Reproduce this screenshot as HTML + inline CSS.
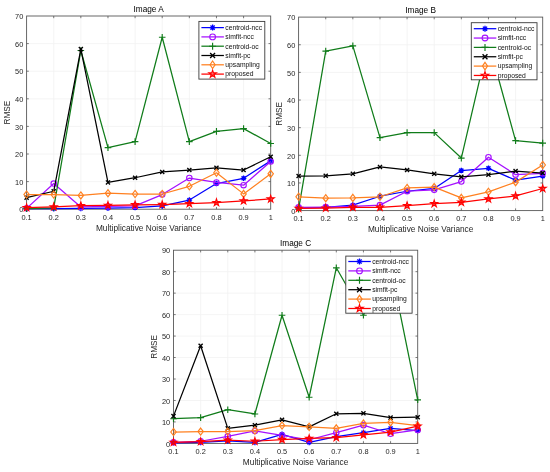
<!DOCTYPE html>
<html><head><meta charset="utf-8"><title>RMSE vs Multiplicative Noise Variance</title>
<style>html,body{margin:0;padding:0;background:#fff}svg{display:block}text{font-family:"Liberation Sans",Arial,Helvetica,sans-serif}</style>
</head><body>
<svg width="550" height="472" viewBox="0 0 550 472">
<rect width="550" height="472" fill="#fff"/>
<path d="M53.72 16.0V209.2" stroke="#f1f1f1" stroke-width="0.8"/><path d="M80.84 16.0V209.2" stroke="#f1f1f1" stroke-width="0.8"/><path d="M107.97 16.0V209.2" stroke="#f1f1f1" stroke-width="0.8"/><path d="M135.09 16.0V209.2" stroke="#f1f1f1" stroke-width="0.8"/><path d="M162.21 16.0V209.2" stroke="#f1f1f1" stroke-width="0.8"/><path d="M189.33 16.0V209.2" stroke="#f1f1f1" stroke-width="0.8"/><path d="M216.46 16.0V209.2" stroke="#f1f1f1" stroke-width="0.8"/><path d="M243.58 16.0V209.2" stroke="#f1f1f1" stroke-width="0.8"/><path d="M26.6 181.60H270.7" stroke="#f1f1f1" stroke-width="0.8"/><path d="M26.6 154.00H270.7" stroke="#f1f1f1" stroke-width="0.8"/><path d="M26.6 126.40H270.7" stroke="#f1f1f1" stroke-width="0.8"/><path d="M26.6 98.80H270.7" stroke="#f1f1f1" stroke-width="0.8"/><path d="M26.6 71.20H270.7" stroke="#f1f1f1" stroke-width="0.8"/><path d="M26.6 43.60H270.7" stroke="#f1f1f1" stroke-width="0.8"/><path d="M53.72 209.2v-2.2M53.72 16.0v2.2M80.84 209.2v-2.2M80.84 16.0v2.2M107.97 209.2v-2.2M107.97 16.0v2.2M135.09 209.2v-2.2M135.09 16.0v2.2M162.21 209.2v-2.2M162.21 16.0v2.2M189.33 209.2v-2.2M189.33 16.0v2.2M216.46 209.2v-2.2M216.46 16.0v2.2M243.58 209.2v-2.2M243.58 16.0v2.2M26.6 181.60h2.2M270.7 181.60h-2.2M26.6 154.00h2.2M270.7 154.00h-2.2M26.6 126.40h2.2M270.7 126.40h-2.2M26.6 98.80h2.2M270.7 98.80h-2.2M26.6 71.20h2.2M270.7 71.20h-2.2M26.6 43.60h2.2M270.7 43.60h-2.2" stroke="#585858" stroke-width="0.8" fill="none"/><rect x="26.6" y="16.0" width="244.10" height="193.20" fill="none" stroke="#585858" stroke-width="0.9"/><polyline points="26.60,208.65 53.72,208.65 80.84,208.37 107.97,208.10 135.09,207.54 162.21,205.89 189.33,200.09 216.46,183.53 243.58,178.29 270.70,160.90" fill="none" stroke="#0000ff" stroke-width="1.25" stroke-linejoin="round"/><path d="M23.80 208.65H29.41M26.60 205.84V211.45M24.62 206.66L28.58 210.63M24.62 210.63L28.58 206.66" stroke="#0000ff" stroke-width="1.3" fill="none"/><path d="M50.92 208.65H56.53M53.72 205.84V211.45M51.74 206.66L55.71 210.63M51.74 210.63L55.71 206.66" stroke="#0000ff" stroke-width="1.3" fill="none"/><path d="M78.04 208.37H83.65M80.84 205.57V211.18M78.86 206.39L82.83 210.36M78.86 210.36L82.83 206.39" stroke="#0000ff" stroke-width="1.3" fill="none"/><path d="M105.16 208.10H110.77M107.97 205.29V210.90M105.98 206.11L109.95 210.08M105.98 210.08L109.95 206.11" stroke="#0000ff" stroke-width="1.3" fill="none"/><path d="M132.28 207.54H137.89M135.09 204.74V210.35M133.11 205.56L137.07 209.53M133.11 209.53L137.07 205.56" stroke="#0000ff" stroke-width="1.3" fill="none"/><path d="M159.41 205.89H165.02M162.21 203.08V208.69M160.23 203.90L164.19 207.87M160.23 207.87L164.19 203.90" stroke="#0000ff" stroke-width="1.3" fill="none"/><path d="M186.53 200.09H192.14M189.33 197.29V202.90M187.35 198.11L191.32 202.08M187.35 202.08L191.32 198.11" stroke="#0000ff" stroke-width="1.3" fill="none"/><path d="M213.65 183.53H219.26M216.46 180.73V186.34M214.47 181.55L218.44 185.52M214.47 185.52L218.44 181.55" stroke="#0000ff" stroke-width="1.3" fill="none"/><path d="M240.77 178.29H246.38M243.58 175.48V181.09M241.59 176.30L245.56 180.27M241.59 180.27L245.56 176.30" stroke="#0000ff" stroke-width="1.3" fill="none"/><path d="M267.89 160.90H273.50M270.70 158.09V163.70M268.72 158.92L272.68 162.88M268.72 162.88L272.68 158.92" stroke="#0000ff" stroke-width="1.3" fill="none"/><polyline points="26.60,208.37 53.72,183.53 80.84,206.99 107.97,206.44 135.09,205.89 162.21,194.57 189.33,178.01 216.46,182.43 243.58,185.19 270.70,161.45" fill="none" stroke="#a510ff" stroke-width="1.25" stroke-linejoin="round"/><circle cx="26.60" cy="208.37" r="2.71" stroke="#a510ff" stroke-width="1.15" fill="none"/><circle cx="53.72" cy="183.53" r="2.71" stroke="#a510ff" stroke-width="1.15" fill="none"/><circle cx="80.84" cy="206.99" r="2.71" stroke="#a510ff" stroke-width="1.15" fill="none"/><circle cx="107.97" cy="206.44" r="2.71" stroke="#a510ff" stroke-width="1.15" fill="none"/><circle cx="135.09" cy="205.89" r="2.71" stroke="#a510ff" stroke-width="1.15" fill="none"/><circle cx="162.21" cy="194.57" r="2.71" stroke="#a510ff" stroke-width="1.15" fill="none"/><circle cx="189.33" cy="178.01" r="2.71" stroke="#a510ff" stroke-width="1.15" fill="none"/><circle cx="216.46" cy="182.43" r="2.71" stroke="#a510ff" stroke-width="1.15" fill="none"/><circle cx="243.58" cy="185.19" r="2.71" stroke="#a510ff" stroke-width="1.15" fill="none"/><circle cx="270.70" cy="161.45" r="2.71" stroke="#a510ff" stroke-width="1.15" fill="none"/><polyline points="26.60,208.65 53.72,207.82 80.84,50.50 107.97,147.65 135.09,141.58 162.21,37.25 189.33,141.58 216.46,131.37 243.58,128.61 270.70,143.51" fill="none" stroke="#107c1a" stroke-width="1.25" stroke-linejoin="round"/><path d="M23.30 208.65H29.90M26.60 205.35V211.95" stroke="#107c1a" stroke-width="1.15" fill="none"/><path d="M50.42 207.82H57.02M53.72 204.52V211.12" stroke="#107c1a" stroke-width="1.15" fill="none"/><path d="M77.54 50.50H84.14M80.84 47.20V53.80" stroke="#107c1a" stroke-width="1.15" fill="none"/><path d="M104.67 147.65H111.27M107.97 144.35V150.95" stroke="#107c1a" stroke-width="1.15" fill="none"/><path d="M131.79 141.58H138.39M135.09 138.28V144.88" stroke="#107c1a" stroke-width="1.15" fill="none"/><path d="M158.91 37.25H165.51M162.21 33.95V40.55" stroke="#107c1a" stroke-width="1.15" fill="none"/><path d="M186.03 141.58H192.63M189.33 138.28V144.88" stroke="#107c1a" stroke-width="1.15" fill="none"/><path d="M213.16 131.37H219.76M216.46 128.07V134.67" stroke="#107c1a" stroke-width="1.15" fill="none"/><path d="M240.28 128.61H246.88M243.58 125.31V131.91" stroke="#107c1a" stroke-width="1.15" fill="none"/><path d="M267.40 143.51H274.00M270.70 140.21V146.81" stroke="#107c1a" stroke-width="1.15" fill="none"/><polyline points="26.60,197.61 53.72,191.26 80.84,49.12 107.97,182.43 135.09,177.74 162.21,171.94 189.33,170.01 216.46,167.80 243.58,170.01 270.70,156.76" fill="none" stroke="#000000" stroke-width="1.25" stroke-linejoin="round"/><path d="M24.55 195.56L28.65 199.65M24.55 199.65L28.65 195.56" stroke="#000000" stroke-width="1.35" fill="none"/><path d="M51.68 189.21L55.77 193.31M51.68 193.31L55.77 189.21" stroke="#000000" stroke-width="1.35" fill="none"/><path d="M78.80 47.07L82.89 51.17M78.80 51.17L82.89 47.07" stroke="#000000" stroke-width="1.35" fill="none"/><path d="M105.92 180.38L110.01 184.47M105.92 184.47L110.01 180.38" stroke="#000000" stroke-width="1.35" fill="none"/><path d="M133.04 175.69L137.13 179.78M133.04 179.78L137.13 175.69" stroke="#000000" stroke-width="1.35" fill="none"/><path d="M160.17 169.89L164.26 173.99M160.17 173.99L164.26 169.89" stroke="#000000" stroke-width="1.35" fill="none"/><path d="M187.29 167.96L191.38 172.05M187.29 172.05L191.38 167.96" stroke="#000000" stroke-width="1.35" fill="none"/><path d="M214.41 165.75L218.50 169.85M214.41 169.85L218.50 165.75" stroke="#000000" stroke-width="1.35" fill="none"/><path d="M241.53 167.96L245.62 172.05M241.53 172.05L245.62 167.96" stroke="#000000" stroke-width="1.35" fill="none"/><path d="M268.65 154.71L272.75 158.81M268.65 158.81L272.75 154.71" stroke="#000000" stroke-width="1.35" fill="none"/><polyline points="26.60,194.57 53.72,194.57 80.84,195.40 107.97,193.19 135.09,194.02 162.21,194.02 189.33,186.29 216.46,172.77 243.58,193.88 270.70,173.87" fill="none" stroke="#ff8020" stroke-width="1.25" stroke-linejoin="round"/><path d="M26.60 191.01L29.31 194.57L26.60 198.14L23.89 194.57Z" stroke="#ff8020" stroke-width="1.15" fill="none"/><path d="M53.72 191.01L56.43 194.57L53.72 198.14L51.02 194.57Z" stroke="#ff8020" stroke-width="1.15" fill="none"/><path d="M80.84 191.84L83.55 195.40L80.84 198.96L78.14 195.40Z" stroke="#ff8020" stroke-width="1.15" fill="none"/><path d="M107.97 189.63L110.67 193.19L107.97 196.76L105.26 193.19Z" stroke="#ff8020" stroke-width="1.15" fill="none"/><path d="M135.09 190.46L137.79 194.02L135.09 197.58L132.38 194.02Z" stroke="#ff8020" stroke-width="1.15" fill="none"/><path d="M162.21 190.46L164.92 194.02L162.21 197.58L159.51 194.02Z" stroke="#ff8020" stroke-width="1.15" fill="none"/><path d="M189.33 182.73L192.04 186.29L189.33 189.86L186.63 186.29Z" stroke="#ff8020" stroke-width="1.15" fill="none"/><path d="M216.46 169.20L219.16 172.77L216.46 176.33L213.75 172.77Z" stroke="#ff8020" stroke-width="1.15" fill="none"/><path d="M243.58 190.32L246.28 193.88L243.58 197.45L240.87 193.88Z" stroke="#ff8020" stroke-width="1.15" fill="none"/><path d="M270.70 170.31L273.41 173.87L270.70 177.44L267.99 173.87Z" stroke="#ff8020" stroke-width="1.15" fill="none"/><polyline points="26.60,207.68 53.72,206.85 80.84,205.61 107.97,205.34 135.09,204.78 162.21,204.51 189.33,203.68 216.46,202.58 243.58,200.92 270.70,198.99" fill="none" stroke="#ff0000" stroke-width="1.25" stroke-linejoin="round"/><polygon points="26.60,204.05 27.42,206.56 30.05,206.56 27.92,208.11 28.73,210.62 26.60,209.07 24.47,210.62 25.28,208.11 23.15,206.56 25.78,206.56" stroke="#ff0000" stroke-width="1.15" fill="#ff0000" fill-opacity="0.5"/><polygon points="53.72,203.22 54.54,205.73 57.17,205.73 55.04,207.28 55.86,209.79 53.72,208.24 51.59,209.79 52.40,207.28 50.27,205.73 52.91,205.73" stroke="#ff0000" stroke-width="1.15" fill="#ff0000" fill-opacity="0.5"/><polygon points="80.84,201.98 81.66,204.49 84.30,204.49 82.16,206.04 82.98,208.55 80.84,207.00 78.71,208.55 79.53,206.04 77.39,204.49 80.03,204.49" stroke="#ff0000" stroke-width="1.15" fill="#ff0000" fill-opacity="0.5"/><polygon points="107.97,201.71 108.78,204.21 111.42,204.21 109.29,205.76 110.10,208.27 107.97,206.72 105.83,208.27 106.65,205.76 104.51,204.21 107.15,204.21" stroke="#ff0000" stroke-width="1.15" fill="#ff0000" fill-opacity="0.5"/><polygon points="135.09,201.15 135.90,203.66 138.54,203.66 136.41,205.21 137.22,207.72 135.09,206.17 132.96,207.72 133.77,205.21 131.64,203.66 134.27,203.66" stroke="#ff0000" stroke-width="1.15" fill="#ff0000" fill-opacity="0.5"/><polygon points="162.21,200.88 163.03,203.39 165.66,203.39 163.53,204.94 164.34,207.44 162.21,205.89 160.08,207.44 160.89,204.94 158.76,203.39 161.40,203.39" stroke="#ff0000" stroke-width="1.15" fill="#ff0000" fill-opacity="0.5"/><polygon points="189.33,200.05 190.15,202.56 192.79,202.56 190.65,204.11 191.47,206.62 189.33,205.07 187.20,206.62 188.01,204.11 185.88,202.56 188.52,202.56" stroke="#ff0000" stroke-width="1.15" fill="#ff0000" fill-opacity="0.5"/><polygon points="216.46,198.95 217.27,201.45 219.91,201.45 217.77,203.00 218.59,205.51 216.46,203.96 214.32,205.51 215.14,203.00 213.00,201.45 215.64,201.45" stroke="#ff0000" stroke-width="1.15" fill="#ff0000" fill-opacity="0.5"/><polygon points="243.58,197.29 244.39,199.80 247.03,199.80 244.90,201.35 245.71,203.86 243.58,202.31 241.44,203.86 242.26,201.35 240.13,199.80 242.76,199.80" stroke="#ff0000" stroke-width="1.15" fill="#ff0000" fill-opacity="0.5"/><polygon points="270.70,195.36 271.52,197.87 274.15,197.87 272.02,199.42 272.83,201.92 270.70,200.37 268.57,201.92 269.38,199.42 267.25,197.87 269.88,197.87" stroke="#ff0000" stroke-width="1.15" fill="#ff0000" fill-opacity="0.5"/><text x="26.60" y="220.00" font-size="7.4" text-anchor="middle" fill="#262626">0.1</text><text x="53.72" y="220.00" font-size="7.4" text-anchor="middle" fill="#262626">0.2</text><text x="80.84" y="220.00" font-size="7.4" text-anchor="middle" fill="#262626">0.3</text><text x="107.97" y="220.00" font-size="7.4" text-anchor="middle" fill="#262626">0.4</text><text x="135.09" y="220.00" font-size="7.4" text-anchor="middle" fill="#262626">0.5</text><text x="162.21" y="220.00" font-size="7.4" text-anchor="middle" fill="#262626">0.6</text><text x="189.33" y="220.00" font-size="7.4" text-anchor="middle" fill="#262626">0.7</text><text x="216.46" y="220.00" font-size="7.4" text-anchor="middle" fill="#262626">0.8</text><text x="243.58" y="220.00" font-size="7.4" text-anchor="middle" fill="#262626">0.9</text><text x="270.70" y="220.00" font-size="7.4" text-anchor="middle" fill="#262626">1</text><text x="23.30" y="212.40" font-size="7.4" text-anchor="end" fill="#262626">0</text><text x="23.30" y="184.80" font-size="7.4" text-anchor="end" fill="#262626">10</text><text x="23.30" y="157.20" font-size="7.4" text-anchor="end" fill="#262626">20</text><text x="23.30" y="129.60" font-size="7.4" text-anchor="end" fill="#262626">30</text><text x="23.30" y="102.00" font-size="7.4" text-anchor="end" fill="#262626">40</text><text x="23.30" y="74.40" font-size="7.4" text-anchor="end" fill="#262626">50</text><text x="23.30" y="46.80" font-size="7.4" text-anchor="end" fill="#262626">60</text><text x="23.30" y="19.20" font-size="7.4" text-anchor="end" fill="#262626">70</text><text x="148.65" y="11.70" font-size="8.25" text-anchor="middle" fill="#000">Image A</text><text x="148.65" y="230.50" font-size="8.3" text-anchor="middle" fill="#262626">Multiplicative Noise Variance</text><text transform="translate(9.60 112.60) rotate(-90)" font-size="8.2" text-anchor="middle" fill="#262626">RMSE</text><rect x="198.9" y="21.4" width="65.90" height="57.70" fill="#fff" stroke="#3a3a3a" stroke-width="0.9"/><path d="M201.40 27.60H223.90" stroke="#0000ff" stroke-width="1.25"/><path d="M209.62 27.60H215.57M212.60 24.62V30.58M210.50 25.50L214.70 29.70M210.50 29.70L214.70 25.50" stroke="#0000ff" stroke-width="1.3" fill="none"/><text x="225.30" y="29.90" font-size="6.75" fill="#111">centroid-ncc</text><path d="M201.40 36.90H223.90" stroke="#a510ff" stroke-width="1.25"/><circle cx="212.60" cy="36.90" r="2.87" stroke="#a510ff" stroke-width="1.15" fill="none"/><text x="225.30" y="39.20" font-size="6.75" fill="#111">simfit-ncc</text><path d="M201.40 46.20H223.90" stroke="#107c1a" stroke-width="1.25"/><path d="M209.10 46.20H216.10M212.60 42.70V49.70" stroke="#107c1a" stroke-width="1.15" fill="none"/><text x="225.30" y="48.50" font-size="6.75" fill="#111">centroid-oc</text><path d="M201.40 55.50H223.90" stroke="#000000" stroke-width="1.25"/><path d="M210.15 53.05L215.05 57.95M210.15 57.95L215.05 53.05" stroke="#000000" stroke-width="1.35" fill="none"/><text x="225.30" y="57.80" font-size="6.75" fill="#111">simfit-pc</text><path d="M201.40 64.80H223.90" stroke="#ff8020" stroke-width="1.25"/><path d="M212.60 61.02L215.12 64.80L212.60 68.58L210.08 64.80Z" stroke="#ff8020" stroke-width="1.15" fill="none"/><text x="225.30" y="67.10" font-size="6.75" fill="#111">upsampling</text><path d="M201.40 74.10H223.90" stroke="#ff0000" stroke-width="1.25"/><polygon points="212.60,70.25 213.46,72.91 216.26,72.91 214.00,74.55 214.86,77.21 212.60,75.57 210.34,77.21 211.20,74.55 208.94,72.91 211.74,72.91" stroke="#ff0000" stroke-width="1.15" fill="#ff0000" fill-opacity="0.0"/><text x="225.30" y="76.40" font-size="6.75" fill="#111">proposed</text><path d="M325.72 17.1V210.6" stroke="#f1f1f1" stroke-width="0.8"/><path d="M352.84 17.1V210.6" stroke="#f1f1f1" stroke-width="0.8"/><path d="M379.97 17.1V210.6" stroke="#f1f1f1" stroke-width="0.8"/><path d="M407.09 17.1V210.6" stroke="#f1f1f1" stroke-width="0.8"/><path d="M434.21 17.1V210.6" stroke="#f1f1f1" stroke-width="0.8"/><path d="M461.33 17.1V210.6" stroke="#f1f1f1" stroke-width="0.8"/><path d="M488.46 17.1V210.6" stroke="#f1f1f1" stroke-width="0.8"/><path d="M515.58 17.1V210.6" stroke="#f1f1f1" stroke-width="0.8"/><path d="M298.6 182.96H542.7" stroke="#f1f1f1" stroke-width="0.8"/><path d="M298.6 155.31H542.7" stroke="#f1f1f1" stroke-width="0.8"/><path d="M298.6 127.67H542.7" stroke="#f1f1f1" stroke-width="0.8"/><path d="M298.6 100.03H542.7" stroke="#f1f1f1" stroke-width="0.8"/><path d="M298.6 72.39H542.7" stroke="#f1f1f1" stroke-width="0.8"/><path d="M298.6 44.74H542.7" stroke="#f1f1f1" stroke-width="0.8"/><path d="M325.72 210.6v-2.2M325.72 17.1v2.2M352.84 210.6v-2.2M352.84 17.1v2.2M379.97 210.6v-2.2M379.97 17.1v2.2M407.09 210.6v-2.2M407.09 17.1v2.2M434.21 210.6v-2.2M434.21 17.1v2.2M461.33 210.6v-2.2M461.33 17.1v2.2M488.46 210.6v-2.2M488.46 17.1v2.2M515.58 210.6v-2.2M515.58 17.1v2.2M298.6 182.96h2.2M542.7 182.96h-2.2M298.6 155.31h2.2M542.7 155.31h-2.2M298.6 127.67h2.2M542.7 127.67h-2.2M298.6 100.03h2.2M542.7 100.03h-2.2M298.6 72.39h2.2M542.7 72.39h-2.2M298.6 44.74h2.2M542.7 44.74h-2.2" stroke="#585858" stroke-width="0.8" fill="none"/><rect x="298.6" y="17.1" width="244.10" height="193.50" fill="none" stroke="#585858" stroke-width="0.9"/><polyline points="298.60,207.84 325.72,207.28 352.84,205.07 379.97,196.23 407.09,191.25 434.21,188.49 461.33,170.52 488.46,168.31 515.58,180.19 542.70,176.05" fill="none" stroke="#0000ff" stroke-width="1.25" stroke-linejoin="round"/><path d="M295.80 207.84H301.41M298.60 205.03V210.64M296.62 205.85L300.58 209.82M296.62 209.82L300.58 205.85" stroke="#0000ff" stroke-width="1.3" fill="none"/><path d="M322.92 207.28H328.53M325.72 204.48V210.09M323.74 205.30L327.71 209.27M323.74 209.27L327.71 205.30" stroke="#0000ff" stroke-width="1.3" fill="none"/><path d="M350.04 205.07H355.65M352.84 202.27V207.88M350.86 203.09L354.83 207.05M350.86 207.05L354.83 203.09" stroke="#0000ff" stroke-width="1.3" fill="none"/><path d="M377.16 196.23H382.77M379.97 193.42V199.03M377.98 194.24L381.95 198.21M377.98 198.21L381.95 194.24" stroke="#0000ff" stroke-width="1.3" fill="none"/><path d="M404.28 191.25H409.89M407.09 188.44V194.06M405.11 189.27L409.07 193.23M405.11 193.23L409.07 189.27" stroke="#0000ff" stroke-width="1.3" fill="none"/><path d="M431.41 188.49H437.02M434.21 185.68V191.29M432.23 186.50L436.19 190.47M432.23 190.47L436.19 186.50" stroke="#0000ff" stroke-width="1.3" fill="none"/><path d="M458.53 170.52H464.14M461.33 167.71V173.32M459.35 168.53L463.32 172.50M459.35 172.50L463.32 168.53" stroke="#0000ff" stroke-width="1.3" fill="none"/><path d="M485.65 168.31H491.26M488.46 165.50V171.11M486.47 166.32L490.44 170.29M486.47 170.29L490.44 166.32" stroke="#0000ff" stroke-width="1.3" fill="none"/><path d="M512.77 180.19H518.38M515.58 177.39V183.00M513.59 178.21L517.56 182.18M513.59 182.18L517.56 178.21" stroke="#0000ff" stroke-width="1.3" fill="none"/><path d="M539.90 176.05H545.50M542.70 173.24V178.85M540.72 174.06L544.68 178.03M540.72 178.03L544.68 174.06" stroke="#0000ff" stroke-width="1.3" fill="none"/><polyline points="298.60,207.28 325.72,207.01 352.84,206.45 379.97,205.07 407.09,191.25 434.21,189.87 461.33,181.57 488.46,157.25 515.58,174.66 542.70,173.28" fill="none" stroke="#a510ff" stroke-width="1.25" stroke-linejoin="round"/><circle cx="298.60" cy="207.28" r="2.71" stroke="#a510ff" stroke-width="1.15" fill="none"/><circle cx="325.72" cy="207.01" r="2.71" stroke="#a510ff" stroke-width="1.15" fill="none"/><circle cx="352.84" cy="206.45" r="2.71" stroke="#a510ff" stroke-width="1.15" fill="none"/><circle cx="379.97" cy="205.07" r="2.71" stroke="#a510ff" stroke-width="1.15" fill="none"/><circle cx="407.09" cy="191.25" r="2.71" stroke="#a510ff" stroke-width="1.15" fill="none"/><circle cx="434.21" cy="189.87" r="2.71" stroke="#a510ff" stroke-width="1.15" fill="none"/><circle cx="461.33" cy="181.57" r="2.71" stroke="#a510ff" stroke-width="1.15" fill="none"/><circle cx="488.46" cy="157.25" r="2.71" stroke="#a510ff" stroke-width="1.15" fill="none"/><circle cx="515.58" cy="174.66" r="2.71" stroke="#a510ff" stroke-width="1.15" fill="none"/><circle cx="542.70" cy="173.28" r="2.71" stroke="#a510ff" stroke-width="1.15" fill="none"/><polyline points="298.60,209.22 325.72,51.10 352.84,45.85 379.97,137.62 407.09,132.65 434.21,132.65 461.33,158.08 488.46,41.98 515.58,140.66 542.70,143.15" fill="none" stroke="#107c1a" stroke-width="1.25" stroke-linejoin="round"/><path d="M295.30 209.22H301.90M298.60 205.92V212.52" stroke="#107c1a" stroke-width="1.15" fill="none"/><path d="M322.42 51.10H329.02M325.72 47.80V54.40" stroke="#107c1a" stroke-width="1.15" fill="none"/><path d="M349.54 45.85H356.14M352.84 42.55V49.15" stroke="#107c1a" stroke-width="1.15" fill="none"/><path d="M376.67 137.62H383.27M379.97 134.32V140.92" stroke="#107c1a" stroke-width="1.15" fill="none"/><path d="M403.79 132.65H410.39M407.09 129.35V135.95" stroke="#107c1a" stroke-width="1.15" fill="none"/><path d="M430.91 132.65H437.51M434.21 129.35V135.95" stroke="#107c1a" stroke-width="1.15" fill="none"/><path d="M458.03 158.08H464.63M461.33 154.78V161.38" stroke="#107c1a" stroke-width="1.15" fill="none"/><path d="M485.16 41.98H491.76M488.46 38.68V45.28" stroke="#107c1a" stroke-width="1.15" fill="none"/><path d="M512.28 140.66H518.88M515.58 137.36V143.96" stroke="#107c1a" stroke-width="1.15" fill="none"/><path d="M539.40 143.15H546.00M542.70 139.85V146.45" stroke="#107c1a" stroke-width="1.15" fill="none"/><polyline points="298.60,176.05 325.72,175.77 352.84,173.83 379.97,166.92 407.09,169.97 434.21,173.83 461.33,176.88 488.46,174.66 515.58,171.07 542.70,173.01" fill="none" stroke="#000000" stroke-width="1.25" stroke-linejoin="round"/><path d="M296.55 174.00L300.65 178.09M296.55 178.09L300.65 174.00" stroke="#000000" stroke-width="1.35" fill="none"/><path d="M323.68 173.72L327.77 177.82M323.68 177.82L327.77 173.72" stroke="#000000" stroke-width="1.35" fill="none"/><path d="M350.80 171.79L354.89 175.88M350.80 175.88L354.89 171.79" stroke="#000000" stroke-width="1.35" fill="none"/><path d="M377.92 164.88L382.01 168.97M377.92 168.97L382.01 164.88" stroke="#000000" stroke-width="1.35" fill="none"/><path d="M405.04 167.92L409.13 172.01M405.04 172.01L409.13 167.92" stroke="#000000" stroke-width="1.35" fill="none"/><path d="M432.17 171.79L436.26 175.88M432.17 175.88L436.26 171.79" stroke="#000000" stroke-width="1.35" fill="none"/><path d="M459.29 174.83L463.38 178.92M459.29 178.92L463.38 174.83" stroke="#000000" stroke-width="1.35" fill="none"/><path d="M486.41 172.62L490.50 176.71M486.41 176.71L490.50 172.62" stroke="#000000" stroke-width="1.35" fill="none"/><path d="M513.53 169.02L517.62 173.12M513.53 173.12L517.62 169.02" stroke="#000000" stroke-width="1.35" fill="none"/><path d="M540.65 170.96L544.75 175.05M540.65 175.05L544.75 170.96" stroke="#000000" stroke-width="1.35" fill="none"/><polyline points="298.60,196.78 325.72,198.16 352.84,197.88 379.97,196.78 407.09,187.93 434.21,187.10 461.33,197.88 488.46,191.80 515.58,182.13 542.70,164.99" fill="none" stroke="#ff8020" stroke-width="1.25" stroke-linejoin="round"/><path d="M298.60 193.21L301.31 196.78L298.60 200.34L295.89 196.78Z" stroke="#ff8020" stroke-width="1.15" fill="none"/><path d="M325.72 194.60L328.43 198.16L325.72 201.72L323.02 198.16Z" stroke="#ff8020" stroke-width="1.15" fill="none"/><path d="M352.84 194.32L355.55 197.88L352.84 201.45L350.14 197.88Z" stroke="#ff8020" stroke-width="1.15" fill="none"/><path d="M379.97 193.21L382.67 196.78L379.97 200.34L377.26 196.78Z" stroke="#ff8020" stroke-width="1.15" fill="none"/><path d="M407.09 184.37L409.79 187.93L407.09 191.50L404.38 187.93Z" stroke="#ff8020" stroke-width="1.15" fill="none"/><path d="M434.21 183.54L436.92 187.10L434.21 190.67L431.51 187.10Z" stroke="#ff8020" stroke-width="1.15" fill="none"/><path d="M461.33 194.32L464.04 197.88L461.33 201.45L458.63 197.88Z" stroke="#ff8020" stroke-width="1.15" fill="none"/><path d="M488.46 188.24L491.16 191.80L488.46 195.37L485.75 191.80Z" stroke="#ff8020" stroke-width="1.15" fill="none"/><path d="M515.58 178.56L518.28 182.13L515.58 185.69L512.87 182.13Z" stroke="#ff8020" stroke-width="1.15" fill="none"/><path d="M542.70 161.43L545.41 164.99L542.70 168.55L539.99 164.99Z" stroke="#ff8020" stroke-width="1.15" fill="none"/><polyline points="298.60,208.39 325.72,208.11 352.84,207.28 379.97,207.28 407.09,205.62 434.21,203.69 461.33,202.31 488.46,198.99 515.58,195.95 542.70,188.49" fill="none" stroke="#ff0000" stroke-width="1.25" stroke-linejoin="round"/><polygon points="298.60,204.76 299.42,207.27 302.05,207.27 299.92,208.82 300.73,211.33 298.60,209.78 296.47,211.33 297.28,208.82 295.15,207.27 297.78,207.27" stroke="#ff0000" stroke-width="1.15" fill="#ff0000" fill-opacity="0.5"/><polygon points="325.72,204.48 326.54,206.99 329.17,206.99 327.04,208.54 327.86,211.05 325.72,209.50 323.59,211.05 324.40,208.54 322.27,206.99 324.91,206.99" stroke="#ff0000" stroke-width="1.15" fill="#ff0000" fill-opacity="0.5"/><polygon points="352.84,203.65 353.66,206.16 356.30,206.16 354.16,207.71 354.98,210.22 352.84,208.67 350.71,210.22 351.53,207.71 349.39,206.16 352.03,206.16" stroke="#ff0000" stroke-width="1.15" fill="#ff0000" fill-opacity="0.5"/><polygon points="379.97,203.65 380.78,206.16 383.42,206.16 381.29,207.71 382.10,210.22 379.97,208.67 377.83,210.22 378.65,207.71 376.51,206.16 379.15,206.16" stroke="#ff0000" stroke-width="1.15" fill="#ff0000" fill-opacity="0.5"/><polygon points="407.09,201.99 407.90,204.50 410.54,204.50 408.41,206.05 409.22,208.56 407.09,207.01 404.96,208.56 405.77,206.05 403.64,204.50 406.27,204.50" stroke="#ff0000" stroke-width="1.15" fill="#ff0000" fill-opacity="0.5"/><polygon points="434.21,200.06 435.03,202.57 437.66,202.57 435.53,204.12 436.34,206.63 434.21,205.08 432.08,206.63 432.89,204.12 430.76,202.57 433.40,202.57" stroke="#ff0000" stroke-width="1.15" fill="#ff0000" fill-opacity="0.5"/><polygon points="461.33,198.68 462.15,201.19 464.79,201.19 462.65,202.74 463.47,205.24 461.33,203.69 459.20,205.24 460.01,202.74 457.88,201.19 460.52,201.19" stroke="#ff0000" stroke-width="1.15" fill="#ff0000" fill-opacity="0.5"/><polygon points="488.46,195.36 489.27,197.87 491.91,197.87 489.77,199.42 490.59,201.93 488.46,200.38 486.32,201.93 487.14,199.42 485.00,197.87 487.64,197.87" stroke="#ff0000" stroke-width="1.15" fill="#ff0000" fill-opacity="0.5"/><polygon points="515.58,192.32 516.39,194.83 519.03,194.83 516.90,196.38 517.71,198.89 515.58,197.34 513.44,198.89 514.26,196.38 512.13,194.83 514.76,194.83" stroke="#ff0000" stroke-width="1.15" fill="#ff0000" fill-opacity="0.5"/><polygon points="542.70,184.86 543.52,187.36 546.15,187.36 544.02,188.91 544.83,191.42 542.70,189.87 540.57,191.42 541.38,188.91 539.25,187.36 541.88,187.36" stroke="#ff0000" stroke-width="1.15" fill="#ff0000" fill-opacity="0.5"/><text x="298.60" y="221.40" font-size="7.4" text-anchor="middle" fill="#262626">0.1</text><text x="325.72" y="221.40" font-size="7.4" text-anchor="middle" fill="#262626">0.2</text><text x="352.84" y="221.40" font-size="7.4" text-anchor="middle" fill="#262626">0.3</text><text x="379.97" y="221.40" font-size="7.4" text-anchor="middle" fill="#262626">0.4</text><text x="407.09" y="221.40" font-size="7.4" text-anchor="middle" fill="#262626">0.5</text><text x="434.21" y="221.40" font-size="7.4" text-anchor="middle" fill="#262626">0.6</text><text x="461.33" y="221.40" font-size="7.4" text-anchor="middle" fill="#262626">0.7</text><text x="488.46" y="221.40" font-size="7.4" text-anchor="middle" fill="#262626">0.8</text><text x="515.58" y="221.40" font-size="7.4" text-anchor="middle" fill="#262626">0.9</text><text x="542.70" y="221.40" font-size="7.4" text-anchor="middle" fill="#262626">1</text><text x="295.30" y="213.80" font-size="7.4" text-anchor="end" fill="#262626">0</text><text x="295.30" y="186.16" font-size="7.4" text-anchor="end" fill="#262626">10</text><text x="295.30" y="158.51" font-size="7.4" text-anchor="end" fill="#262626">20</text><text x="295.30" y="130.87" font-size="7.4" text-anchor="end" fill="#262626">30</text><text x="295.30" y="103.23" font-size="7.4" text-anchor="end" fill="#262626">40</text><text x="295.30" y="75.59" font-size="7.4" text-anchor="end" fill="#262626">50</text><text x="295.30" y="47.94" font-size="7.4" text-anchor="end" fill="#262626">60</text><text x="295.30" y="20.30" font-size="7.4" text-anchor="end" fill="#262626">70</text><text x="420.65" y="12.80" font-size="8.25" text-anchor="middle" fill="#000">Image B</text><text x="420.65" y="231.90" font-size="8.3" text-anchor="middle" fill="#262626">Multiplicative Noise Variance</text><text transform="translate(281.60 113.85) rotate(-90)" font-size="8.2" text-anchor="middle" fill="#262626">RMSE</text><rect x="471.3" y="22.7" width="65.70" height="57.10" fill="#fff" stroke="#3a3a3a" stroke-width="0.9"/><path d="M473.80 28.70H496.30" stroke="#0000ff" stroke-width="1.25"/><path d="M482.02 28.70H487.98M485.00 25.72V31.68M482.90 26.60L487.10 30.80M482.90 30.80L487.10 26.60" stroke="#0000ff" stroke-width="1.3" fill="none"/><text x="497.70" y="31.00" font-size="6.75" fill="#111">centroid-ncc</text><path d="M473.80 38.05H496.30" stroke="#a510ff" stroke-width="1.25"/><circle cx="485.00" cy="38.05" r="2.87" stroke="#a510ff" stroke-width="1.15" fill="none"/><text x="497.70" y="40.35" font-size="6.75" fill="#111">simfit-ncc</text><path d="M473.80 47.40H496.30" stroke="#107c1a" stroke-width="1.25"/><path d="M481.50 47.40H488.50M485.00 43.90V50.90" stroke="#107c1a" stroke-width="1.15" fill="none"/><text x="497.70" y="49.70" font-size="6.75" fill="#111">centroid-oc</text><path d="M473.80 56.75H496.30" stroke="#000000" stroke-width="1.25"/><path d="M482.55 54.30L487.45 59.20M482.55 59.20L487.45 54.30" stroke="#000000" stroke-width="1.35" fill="none"/><text x="497.70" y="59.05" font-size="6.75" fill="#111">simfit-pc</text><path d="M473.80 66.10H496.30" stroke="#ff8020" stroke-width="1.25"/><path d="M485.00 62.32L487.52 66.10L485.00 69.88L482.48 66.10Z" stroke="#ff8020" stroke-width="1.15" fill="none"/><text x="497.70" y="68.40" font-size="6.75" fill="#111">upsampling</text><path d="M473.80 75.45H496.30" stroke="#ff0000" stroke-width="1.25"/><polygon points="485.00,71.60 485.86,74.26 488.66,74.26 486.40,75.90 487.26,78.56 485.00,76.92 482.74,78.56 483.60,75.90 481.34,74.26 484.14,74.26" stroke="#ff0000" stroke-width="1.15" fill="#ff0000" fill-opacity="0.0"/><text x="497.70" y="77.75" font-size="6.75" fill="#111">proposed</text><path d="M200.63 250.2V443.4" stroke="#f1f1f1" stroke-width="0.8"/><path d="M227.77 250.2V443.4" stroke="#f1f1f1" stroke-width="0.8"/><path d="M254.90 250.2V443.4" stroke="#f1f1f1" stroke-width="0.8"/><path d="M282.03 250.2V443.4" stroke="#f1f1f1" stroke-width="0.8"/><path d="M309.17 250.2V443.4" stroke="#f1f1f1" stroke-width="0.8"/><path d="M336.30 250.2V443.4" stroke="#f1f1f1" stroke-width="0.8"/><path d="M363.43 250.2V443.4" stroke="#f1f1f1" stroke-width="0.8"/><path d="M390.57 250.2V443.4" stroke="#f1f1f1" stroke-width="0.8"/><path d="M173.5 421.93H417.7" stroke="#f1f1f1" stroke-width="0.8"/><path d="M173.5 400.47H417.7" stroke="#f1f1f1" stroke-width="0.8"/><path d="M173.5 379.00H417.7" stroke="#f1f1f1" stroke-width="0.8"/><path d="M173.5 357.53H417.7" stroke="#f1f1f1" stroke-width="0.8"/><path d="M173.5 336.07H417.7" stroke="#f1f1f1" stroke-width="0.8"/><path d="M173.5 314.60H417.7" stroke="#f1f1f1" stroke-width="0.8"/><path d="M173.5 293.13H417.7" stroke="#f1f1f1" stroke-width="0.8"/><path d="M173.5 271.67H417.7" stroke="#f1f1f1" stroke-width="0.8"/><path d="M200.63 443.4v-2.2M200.63 250.2v2.2M227.77 443.4v-2.2M227.77 250.2v2.2M254.90 443.4v-2.2M254.90 250.2v2.2M282.03 443.4v-2.2M282.03 250.2v2.2M309.17 443.4v-2.2M309.17 250.2v2.2M336.30 443.4v-2.2M336.30 250.2v2.2M363.43 443.4v-2.2M363.43 250.2v2.2M390.57 443.4v-2.2M390.57 250.2v2.2M173.5 421.93h2.2M417.7 421.93h-2.2M173.5 400.47h2.2M417.7 400.47h-2.2M173.5 379.00h2.2M417.7 379.00h-2.2M173.5 357.53h2.2M417.7 357.53h-2.2M173.5 336.07h2.2M417.7 336.07h-2.2M173.5 314.60h2.2M417.7 314.60h-2.2M173.5 293.13h2.2M417.7 293.13h-2.2M173.5 271.67h2.2M417.7 271.67h-2.2" stroke="#585858" stroke-width="0.8" fill="none"/><rect x="173.5" y="250.2" width="244.20" height="193.20" fill="none" stroke="#585858" stroke-width="0.9"/><polyline points="173.50,442.76 200.63,442.33 227.77,440.82 254.90,442.33 282.03,434.38 309.17,442.33 336.30,436.53 363.43,432.67 390.57,428.37 417.70,430.52" fill="none" stroke="#0000ff" stroke-width="1.25" stroke-linejoin="round"/><path d="M170.69 442.76H176.31M173.50 439.95V445.56M171.52 440.77L175.48 444.74M171.52 444.74L175.48 440.77" stroke="#0000ff" stroke-width="1.3" fill="none"/><path d="M197.83 442.33H203.44M200.63 439.52V445.13M198.65 440.34L202.62 444.31M198.65 444.31L202.62 440.34" stroke="#0000ff" stroke-width="1.3" fill="none"/><path d="M224.96 440.82H230.57M227.77 438.02V443.63M225.78 438.84L229.75 442.81M225.78 442.81L229.75 438.84" stroke="#0000ff" stroke-width="1.3" fill="none"/><path d="M252.09 442.33H257.70M254.90 439.52V445.13M252.92 440.34L256.88 444.31M252.92 444.31L256.88 440.34" stroke="#0000ff" stroke-width="1.3" fill="none"/><path d="M279.23 434.38H284.84M282.03 431.58V437.19M280.05 432.40L284.02 436.37M280.05 436.37L284.02 432.40" stroke="#0000ff" stroke-width="1.3" fill="none"/><path d="M306.36 442.33H311.97M309.17 439.52V445.13M307.18 440.34L311.15 444.31M307.18 444.31L311.15 440.34" stroke="#0000ff" stroke-width="1.3" fill="none"/><path d="M333.49 436.53H339.10M336.30 433.73V439.34M334.32 434.55L338.28 438.51M334.32 438.51L338.28 434.55" stroke="#0000ff" stroke-width="1.3" fill="none"/><path d="M360.63 432.67H366.24M363.43 429.86V435.47M361.45 430.68L365.42 434.65M361.45 434.65L365.42 430.68" stroke="#0000ff" stroke-width="1.3" fill="none"/><path d="M387.76 428.37H393.37M390.57 425.57V431.18M388.58 426.39L392.55 430.36M388.58 430.36L392.55 426.39" stroke="#0000ff" stroke-width="1.3" fill="none"/><path d="M414.89 430.52H420.50M417.70 427.71V433.32M415.72 428.54L419.68 432.50M415.72 432.50L419.68 428.54" stroke="#0000ff" stroke-width="1.3" fill="none"/><polyline points="173.50,442.33 200.63,441.25 227.77,436.32 254.90,430.95 282.03,435.46 309.17,439.75 336.30,432.67 363.43,425.15 390.57,433.74 417.70,429.88" fill="none" stroke="#a510ff" stroke-width="1.25" stroke-linejoin="round"/><circle cx="173.50" cy="442.33" r="2.71" stroke="#a510ff" stroke-width="1.15" fill="none"/><circle cx="200.63" cy="441.25" r="2.71" stroke="#a510ff" stroke-width="1.15" fill="none"/><circle cx="227.77" cy="436.32" r="2.71" stroke="#a510ff" stroke-width="1.15" fill="none"/><circle cx="254.90" cy="430.95" r="2.71" stroke="#a510ff" stroke-width="1.15" fill="none"/><circle cx="282.03" cy="435.46" r="2.71" stroke="#a510ff" stroke-width="1.15" fill="none"/><circle cx="309.17" cy="439.75" r="2.71" stroke="#a510ff" stroke-width="1.15" fill="none"/><circle cx="336.30" cy="432.67" r="2.71" stroke="#a510ff" stroke-width="1.15" fill="none"/><circle cx="363.43" cy="425.15" r="2.71" stroke="#a510ff" stroke-width="1.15" fill="none"/><circle cx="390.57" cy="433.74" r="2.71" stroke="#a510ff" stroke-width="1.15" fill="none"/><circle cx="417.70" cy="429.88" r="2.71" stroke="#a510ff" stroke-width="1.15" fill="none"/><polyline points="173.50,418.71 200.63,417.64 227.77,409.70 254.90,413.99 282.03,315.24 309.17,397.25 336.30,267.80 363.43,315.24 390.57,266.30 417.70,399.82" fill="none" stroke="#107c1a" stroke-width="1.25" stroke-linejoin="round"/><path d="M170.20 418.71H176.80M173.50 415.41V422.01" stroke="#107c1a" stroke-width="1.15" fill="none"/><path d="M197.33 417.64H203.93M200.63 414.34V420.94" stroke="#107c1a" stroke-width="1.15" fill="none"/><path d="M224.47 409.70H231.07M227.77 406.40V413.00" stroke="#107c1a" stroke-width="1.15" fill="none"/><path d="M251.60 413.99H258.20M254.90 410.69V417.29" stroke="#107c1a" stroke-width="1.15" fill="none"/><path d="M278.73 315.24H285.33M282.03 311.94V318.54" stroke="#107c1a" stroke-width="1.15" fill="none"/><path d="M305.87 397.25H312.47M309.17 393.95V400.55" stroke="#107c1a" stroke-width="1.15" fill="none"/><path d="M333.00 267.80H339.60M336.30 264.50V271.10" stroke="#107c1a" stroke-width="1.15" fill="none"/><path d="M360.13 315.24H366.73M363.43 311.94V318.54" stroke="#107c1a" stroke-width="1.15" fill="none"/><path d="M387.27 266.30H393.87M390.57 263.00V269.60" stroke="#107c1a" stroke-width="1.15" fill="none"/><path d="M414.40 399.82H421.00M417.70 396.52V403.12" stroke="#107c1a" stroke-width="1.15" fill="none"/><polyline points="173.50,416.14 200.63,345.73 227.77,428.37 254.90,425.15 282.03,419.79 309.17,426.87 336.30,413.78 363.43,413.35 390.57,417.64 417.70,417.21" fill="none" stroke="#000000" stroke-width="1.25" stroke-linejoin="round"/><path d="M171.45 414.09L175.55 418.18M171.45 418.18L175.55 414.09" stroke="#000000" stroke-width="1.35" fill="none"/><path d="M198.59 343.68L202.68 347.77M198.59 347.77L202.68 343.68" stroke="#000000" stroke-width="1.35" fill="none"/><path d="M225.72 426.33L229.81 430.42M225.72 430.42L229.81 426.33" stroke="#000000" stroke-width="1.35" fill="none"/><path d="M252.85 423.11L256.95 427.20M252.85 427.20L256.95 423.11" stroke="#000000" stroke-width="1.35" fill="none"/><path d="M279.99 417.74L284.08 421.83M279.99 421.83L284.08 417.74" stroke="#000000" stroke-width="1.35" fill="none"/><path d="M307.12 424.82L311.21 428.92M307.12 428.92L311.21 424.82" stroke="#000000" stroke-width="1.35" fill="none"/><path d="M334.25 411.73L338.35 415.82M334.25 415.82L338.35 411.73" stroke="#000000" stroke-width="1.35" fill="none"/><path d="M361.39 411.30L365.48 415.39M361.39 415.39L365.48 411.30" stroke="#000000" stroke-width="1.35" fill="none"/><path d="M388.52 415.59L392.61 419.69M388.52 419.69L392.61 415.59" stroke="#000000" stroke-width="1.35" fill="none"/><path d="M415.65 415.16L419.75 419.26M415.65 419.26L419.75 415.16" stroke="#000000" stroke-width="1.35" fill="none"/><polyline points="173.50,432.02 200.63,431.59 227.77,431.59 254.90,430.52 282.03,425.58 309.17,426.87 336.30,428.37 363.43,423.44 390.57,422.36 417.70,425.58" fill="none" stroke="#ff8020" stroke-width="1.25" stroke-linejoin="round"/><path d="M173.50 428.46L176.21 432.02L173.50 435.59L170.79 432.02Z" stroke="#ff8020" stroke-width="1.15" fill="none"/><path d="M200.63 428.03L203.34 431.59L200.63 435.16L197.93 431.59Z" stroke="#ff8020" stroke-width="1.15" fill="none"/><path d="M227.77 428.03L230.47 431.59L227.77 435.16L225.06 431.59Z" stroke="#ff8020" stroke-width="1.15" fill="none"/><path d="M254.90 426.96L257.61 430.52L254.90 434.08L252.19 430.52Z" stroke="#ff8020" stroke-width="1.15" fill="none"/><path d="M282.03 422.02L284.74 425.58L282.03 429.15L279.33 425.58Z" stroke="#ff8020" stroke-width="1.15" fill="none"/><path d="M309.17 423.31L311.87 426.87L309.17 430.43L306.46 426.87Z" stroke="#ff8020" stroke-width="1.15" fill="none"/><path d="M336.30 424.81L339.01 428.37L336.30 431.94L333.59 428.37Z" stroke="#ff8020" stroke-width="1.15" fill="none"/><path d="M363.43 419.87L366.14 423.44L363.43 427.00L360.73 423.44Z" stroke="#ff8020" stroke-width="1.15" fill="none"/><path d="M390.57 418.80L393.27 422.36L390.57 425.93L387.86 422.36Z" stroke="#ff8020" stroke-width="1.15" fill="none"/><path d="M417.70 422.02L420.41 425.58L417.70 429.15L414.99 425.58Z" stroke="#ff8020" stroke-width="1.15" fill="none"/><polyline points="173.50,442.33 200.63,441.68 227.77,440.18 254.90,441.25 282.03,439.54 309.17,438.46 336.30,437.60 363.43,434.81 390.57,432.02 417.70,426.23" fill="none" stroke="#ff0000" stroke-width="1.25" stroke-linejoin="round"/><polygon points="173.50,438.70 174.32,441.20 176.95,441.20 174.82,442.76 175.63,445.26 173.50,443.71 171.37,445.26 172.18,442.76 170.05,441.20 172.68,441.20" stroke="#ff0000" stroke-width="1.15" fill="#ff0000" fill-opacity="0.5"/><polygon points="200.63,438.05 201.45,440.56 204.09,440.56 201.95,442.11 202.77,444.62 200.63,443.07 198.50,444.62 199.31,442.11 197.18,440.56 199.82,440.56" stroke="#ff0000" stroke-width="1.15" fill="#ff0000" fill-opacity="0.5"/><polygon points="227.77,436.55 228.58,439.06 231.22,439.06 229.09,440.61 229.90,443.12 227.77,441.57 225.63,443.12 226.45,440.61 224.31,439.06 226.95,439.06" stroke="#ff0000" stroke-width="1.15" fill="#ff0000" fill-opacity="0.5"/><polygon points="254.90,437.62 255.72,440.13 258.35,440.13 256.22,441.68 257.03,444.19 254.90,442.64 252.77,444.19 253.58,441.68 251.45,440.13 254.08,440.13" stroke="#ff0000" stroke-width="1.15" fill="#ff0000" fill-opacity="0.5"/><polygon points="282.03,435.91 282.85,438.41 285.49,438.41 283.35,439.96 284.17,442.47 282.03,440.92 279.90,442.47 280.71,439.96 278.58,438.41 281.22,438.41" stroke="#ff0000" stroke-width="1.15" fill="#ff0000" fill-opacity="0.5"/><polygon points="309.17,434.83 309.98,437.34 312.62,437.34 310.49,438.89 311.30,441.40 309.17,439.85 307.03,441.40 307.85,438.89 305.71,437.34 308.35,437.34" stroke="#ff0000" stroke-width="1.15" fill="#ff0000" fill-opacity="0.5"/><polygon points="336.30,433.97 337.12,436.48 339.75,436.48 337.62,438.03 338.43,440.54 336.30,438.99 334.17,440.54 334.98,438.03 332.85,436.48 335.48,436.48" stroke="#ff0000" stroke-width="1.15" fill="#ff0000" fill-opacity="0.5"/><polygon points="363.43,431.18 364.25,433.69 366.89,433.69 364.75,435.24 365.57,437.75 363.43,436.20 361.30,437.75 362.11,435.24 359.98,433.69 362.62,433.69" stroke="#ff0000" stroke-width="1.15" fill="#ff0000" fill-opacity="0.5"/><polygon points="390.57,428.39 391.38,430.90 394.02,430.90 391.89,432.45 392.70,434.96 390.57,433.41 388.43,434.96 389.25,432.45 387.11,430.90 389.75,430.90" stroke="#ff0000" stroke-width="1.15" fill="#ff0000" fill-opacity="0.5"/><polygon points="417.70,422.60 418.52,425.10 421.15,425.10 419.02,426.66 419.83,429.16 417.70,427.61 415.57,429.16 416.38,426.66 414.25,425.10 416.88,425.10" stroke="#ff0000" stroke-width="1.15" fill="#ff0000" fill-opacity="0.5"/><text x="173.50" y="454.20" font-size="7.4" text-anchor="middle" fill="#262626">0.1</text><text x="200.63" y="454.20" font-size="7.4" text-anchor="middle" fill="#262626">0.2</text><text x="227.77" y="454.20" font-size="7.4" text-anchor="middle" fill="#262626">0.3</text><text x="254.90" y="454.20" font-size="7.4" text-anchor="middle" fill="#262626">0.4</text><text x="282.03" y="454.20" font-size="7.4" text-anchor="middle" fill="#262626">0.5</text><text x="309.17" y="454.20" font-size="7.4" text-anchor="middle" fill="#262626">0.6</text><text x="336.30" y="454.20" font-size="7.4" text-anchor="middle" fill="#262626">0.7</text><text x="363.43" y="454.20" font-size="7.4" text-anchor="middle" fill="#262626">0.8</text><text x="390.57" y="454.20" font-size="7.4" text-anchor="middle" fill="#262626">0.9</text><text x="417.70" y="454.20" font-size="7.4" text-anchor="middle" fill="#262626">1</text><text x="170.20" y="446.60" font-size="7.4" text-anchor="end" fill="#262626">0</text><text x="170.20" y="425.13" font-size="7.4" text-anchor="end" fill="#262626">10</text><text x="170.20" y="403.67" font-size="7.4" text-anchor="end" fill="#262626">20</text><text x="170.20" y="382.20" font-size="7.4" text-anchor="end" fill="#262626">30</text><text x="170.20" y="360.73" font-size="7.4" text-anchor="end" fill="#262626">40</text><text x="170.20" y="339.27" font-size="7.4" text-anchor="end" fill="#262626">50</text><text x="170.20" y="317.80" font-size="7.4" text-anchor="end" fill="#262626">60</text><text x="170.20" y="296.33" font-size="7.4" text-anchor="end" fill="#262626">70</text><text x="170.20" y="274.87" font-size="7.4" text-anchor="end" fill="#262626">80</text><text x="170.20" y="253.40" font-size="7.4" text-anchor="end" fill="#262626">90</text><text x="295.60" y="245.90" font-size="8.25" text-anchor="middle" fill="#000">Image C</text><text x="295.60" y="464.70" font-size="8.3" text-anchor="middle" fill="#262626">Multiplicative Noise Variance</text><text transform="translate(156.50 346.80) rotate(-90)" font-size="8.2" text-anchor="middle" fill="#262626">RMSE</text><rect x="345.8" y="256.1" width="66.30" height="57.10" fill="#fff" stroke="#3a3a3a" stroke-width="0.9"/><path d="M348.30 261.50H370.80" stroke="#0000ff" stroke-width="1.25"/><path d="M356.52 261.50H362.48M359.50 258.52V264.48M357.40 259.40L361.60 263.60M357.40 263.60L361.60 259.40" stroke="#0000ff" stroke-width="1.3" fill="none"/><text x="372.20" y="263.80" font-size="6.75" fill="#111">centroid-ncc</text><path d="M348.30 270.90H370.80" stroke="#a510ff" stroke-width="1.25"/><circle cx="359.50" cy="270.90" r="2.87" stroke="#a510ff" stroke-width="1.15" fill="none"/><text x="372.20" y="273.20" font-size="6.75" fill="#111">simfit-ncc</text><path d="M348.30 280.30H370.80" stroke="#107c1a" stroke-width="1.25"/><path d="M356.00 280.30H363.00M359.50 276.80V283.80" stroke="#107c1a" stroke-width="1.15" fill="none"/><text x="372.20" y="282.60" font-size="6.75" fill="#111">centroid-oc</text><path d="M348.30 289.70H370.80" stroke="#000000" stroke-width="1.25"/><path d="M357.05 287.25L361.95 292.15M357.05 292.15L361.95 287.25" stroke="#000000" stroke-width="1.35" fill="none"/><text x="372.20" y="292.00" font-size="6.75" fill="#111">simfit-pc</text><path d="M348.30 299.10H370.80" stroke="#ff8020" stroke-width="1.25"/><path d="M359.50 295.32L362.02 299.10L359.50 302.88L356.98 299.10Z" stroke="#ff8020" stroke-width="1.15" fill="none"/><text x="372.20" y="301.40" font-size="6.75" fill="#111">upsampling</text><path d="M348.30 308.50H370.80" stroke="#ff0000" stroke-width="1.25"/><polygon points="359.50,304.65 360.36,307.31 363.16,307.31 360.90,308.95 361.76,311.61 359.50,309.97 357.24,311.61 358.10,308.95 355.84,307.31 358.64,307.31" stroke="#ff0000" stroke-width="1.15" fill="#ff0000" fill-opacity="0.0"/><text x="372.20" y="310.80" font-size="6.75" fill="#111">proposed</text>
</svg>
</body></html>
